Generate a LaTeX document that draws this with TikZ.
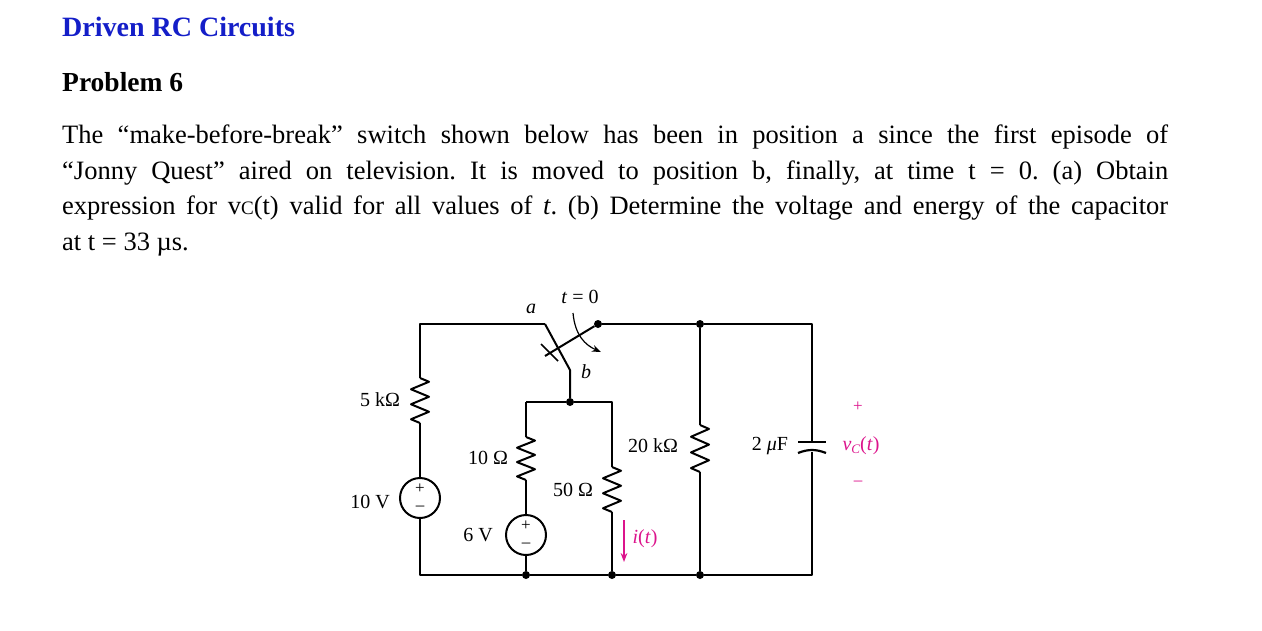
\documentclass[tikz,border=0pt]{standalone}
\usepackage{fontspec}
\setmainfont{Liberation Serif}
\usetikzlibrary{arrows.meta}
\definecolor{ttl}{RGB}{20,30,200}
\definecolor{mag}{RGB}{220,20,140}
\newcommand{\zres}[3]{% x, ytop, ybottom
  \pgfmathsetmacro{\hh}{(#3-#2)/12}
  \draw[wire] (#1,#2) -- ++(9,\hh) -- ++(-18,2*\hh) -- ++(18,2*\hh) -- ++(-18,2*\hh) -- ++(18,2*\hh) -- ++(-18,2*\hh) -- (#1,#3);}
\begin{document}
\begin{tikzpicture}[x=1pt,y=-1pt,
  wire/.style={line width=2pt,line join=round},
  dot/.style={circle,fill,inner sep=0pt,minimum size=8pt},
  src/.style={circle,draw,line width=2pt,minimum size=40pt,inner sep=0pt},
  lbl/.style={font=\fontsize{20}{22}\selectfont,inner sep=1pt},
  sgn/.style={font=\fontsize{17}{17}\selectfont,inner sep=0pt}]
\useasboundingbox (0,0) rectangle (1262,630);
\node[anchor=base west,text=ttl,font=\fontsize{28}{30}\selectfont\bfseries,inner sep=0] (title) at (62,36) {Driven RC Circuits};
\node[anchor=base west,font=\fontsize{27.5}{30}\selectfont\bfseries,inner sep=0] (prob) at (62,91) {Problem 6};
\node[anchor=north west,text width=1106pt,align=justify,font=\fontsize{26.5}{35.4}\selectfont\frenchspacing,inner sep=0] (para) at (62,125) {The “make-before-break” switch shown below has been in position a since the first episode of\linebreak “Jonny Quest” aired on television. It is moved to position b, finally, at time t = 0. (a) Obtain\linebreak expression for v{\fontsize{19}{20}\selectfont C}(t) valid for all values of \textit{t}. (b) Determine the voltage and energy of the capacitor\linebreak at t = 33 µs.};
% coordinates
\coordinate (TL) at (420,324); \coordinate (BL) at (420,575);
\coordinate (A) at (545,324); \coordinate (Bp) at (570,370);
\node[dot] (P) at (598,324) {};
\node[dot] (N) at (570,402) {};
\node[dot] (D1) at (700,324) {};
\node[dot] (B1) at (526,575) {};
\node[dot] (B2) at (612,575) {};
\node[dot] (B3) at (700,575) {};
% left branch
\draw[wire] (A) -- (TL) -- (420,378);
\zres{420}{378}{423}
\node[src] (V10) at (420,498) {};
\draw[wire] (420,423) -- (V10.north); \draw[wire] (V10.south) -- (BL) -- (B1);
\node[sgn] at (420,489) {+};
\node[sgn] at (420,508) {–};
% switch
\draw[wire] (A) -- (Bp) -- (N);
\draw[wire] (P) -- (545,356);
\draw[line width=1.5pt] (541,344) -- (558,361);
\draw[line width=1.2pt,-{Stealth[length=9pt]}] (573,313) .. controls (575,335) and (585,345) .. (601,352);
\draw[wire] (P) -- (D1) -- (812,324) -- (812,442);
% middle branches
\draw[wire] (526,402) -- (N) -- (612,402) -- (612,467);
\draw[wire] (526,402) -- (526,437);
\zres{526}{437}{480}
\node[src] (V6) at (526,535) {};
\draw[wire] (526,480) -- (V6.north); \draw[wire] (V6.south) -- (B1);
\node[sgn] at (526,526) {+};
\node[sgn] at (526,545) {–};
\zres{612}{467}{512}
\draw[wire] (612,512) -- (B2);
\draw[wire] (B1) -- (B2) -- (B3) -- (812,575) -- (812,452);
\draw[wire] (D1) -- (700,425); \zres{700}{425}{472} \draw[wire] (700,472) -- (B3);
% capacitor
\draw[line width=2.2pt] (798,442) -- (826,442);
\draw[line width=2.2pt] (798,453) .. controls (808,449) and (816,449) .. (826,453);
% current arrow
\draw[mag,line width=1.4pt,-{Stealth[length=9pt]}] (624,520) -- (624,562);
% labels
\node[lbl] at (380,400) {5 kΩ};
\node[lbl] at (370,502) {10 V};
\node[lbl] at (488,458) {10 Ω};
\node[lbl] at (478,535) {6 V};
\node[lbl] at (573,490) {50 Ω};
\node[lbl] at (653,446) {20 kΩ};
\node[lbl] at (770,446) {2 \textit{μ}F};
\node[lbl] at (531,309) {\textit{a}};
\node[lbl] at (580,297) {\textit{t} = 0};
\node[lbl] at (586,372) {\textit{b}};
\node[lbl,text=mag] at (645,539) {\textit{i}(\textit{t})};
\node[lbl,text=mag] at (861,446) {\textit{v}\raisebox{-3pt}{\fontsize{13}{13}\selectfont\textit{C}}(\textit{t})};
\node[sgn,text=mag] at (858,407) {+};
\node[sgn,text=mag] at (858,483) {–};
\end{tikzpicture}
\end{document}
